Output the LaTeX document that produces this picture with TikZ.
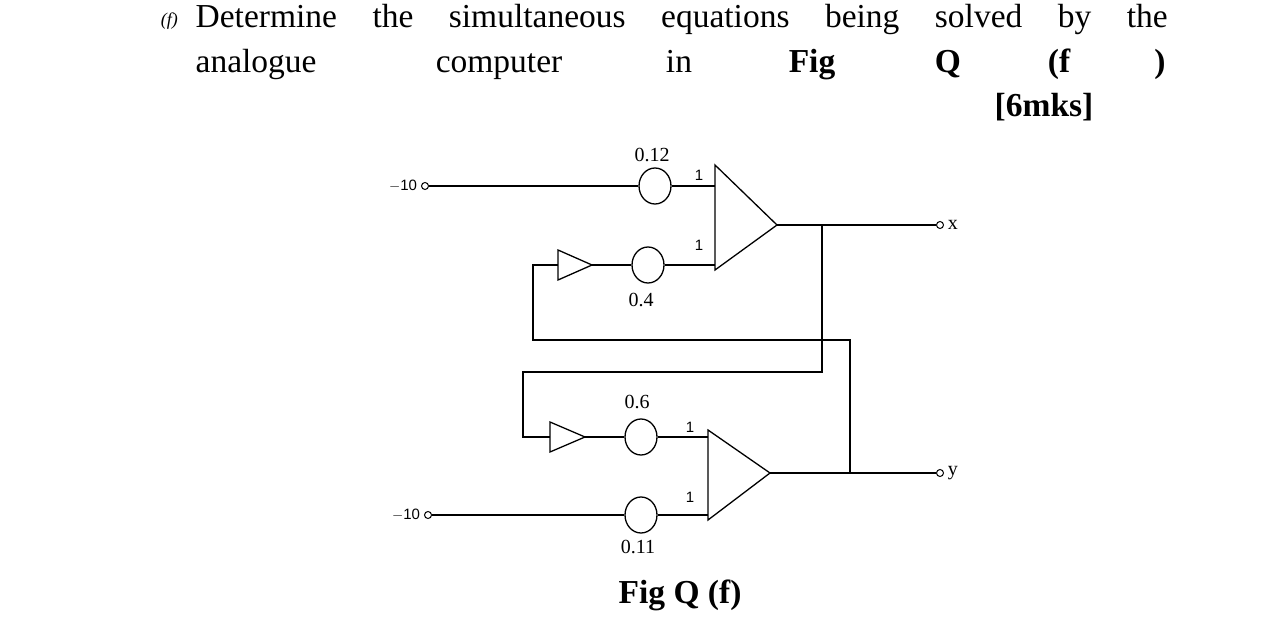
\documentclass[tikz,border=0pt]{standalone}
\usepackage{fontspec}
\usetikzlibrary{shapes.geometric}
\setmainfont{Liberation Serif}
\newfontfamily\sansf{Liberation Sans}
\begin{document}
\begin{tikzpicture}[x=1pt,y=-1pt,line width=1.3pt,
  pot/.style={draw,ellipse,minimum width=32pt,minimum height=36pt,inner sep=0pt},
  term/.style={draw,circle,minimum size=7pt,inner sep=0pt,line width=1pt},
  big/.style={font=\fontsize{33.5}{38}\selectfont},
  bigb/.style={font=\bfseries\fontsize{33.5}{38}\selectfont},
  lab/.style={font=\fontsize{20}{22}\selectfont},
  small/.style={font=\sansf\fontsize{15}{16}\selectfont}]
\useasboundingbox (0,0) rectangle (1284,617);
% text
\node[anchor=base west,font=\itshape\fontsize{18}{20}\selectfont] (tf) at (157,26) {(f)};
\node[big,anchor=base west,inner sep=0pt] (t1) at (195,28) {\makebox[972pt][s]{Determine the simultaneous equations being solved by the}};
\node[big,anchor=base west,inner sep=0pt] (a1) at (195,73) {analogue};
\node[big,anchor=base] (a2) at (499,73) {computer};
\node[big,anchor=base] (a3) at (679,73) {in};
\node[bigb,anchor=base] (a4) at (812,73) {Fig};
\node[bigb,anchor=base] (a5) at (948,73) {Q};
\node[bigb,anchor=base] (a6) at (1059,73) {(f};
\node[bigb,anchor=base] (a7) at (1160,73) {)};
\node[bigb,anchor=base east,inner sep=0pt] (mk) at (1094,117) {[6mks]};
\node[bigb,anchor=base] (cap) at (680,603) {Fig Q (f)};
% top amplifier
\coordinate (A1a) at (715,165); \coordinate (A1b) at (715,270); \coordinate (A1o) at (777,225);
\draw (A1a) -- (A1o) -- (A1b) -- cycle;
\node[term] (m1) at (425,186) {}; \node[small,left] at (m1.west) {$-$10};
\node[pot] (p1) at (655,186) {}; \node[lab] at (652,155) {0.12};
\draw (m1) -- (p1); \draw (p1) -- (715,186); \node[small] at (699,175) {1};
\node[term] (xo) at (940,225) {}; \node[lab,right] at (xo.east) {x};
\draw (A1o) -- (xo);
\draw (558,250) -- (592,265) -- (558,280) -- cycle;
\node[pot] (p2) at (648,265) {}; \node[lab] at (641,300) {0.4};
\draw (592,265) -- (p2); \draw (p2) -- (715,265); \node[small] at (699,245) {1};
% bottom amplifier
\coordinate (A2a) at (708,430); \coordinate (A2b) at (708,520); \coordinate (A2o) at (770,473);
\draw (A2a) -- (A2o) -- (A2b) -- cycle;
\draw (550,422) -- (585,437) -- (550,452) -- cycle;
\node[pot] (p3) at (641,437) {}; \node[lab] at (637,402) {0.6};
\draw (585,437) -- (p3); \draw (p3) -- (708,437); \node[small] at (690,427) {1};
\node[term] (m2) at (428,515) {}; \node[small,left] at (m2.west) {$-$10};
\node[pot] (p4) at (641,515) {}; \node[lab] at (638,547) {0.11};
\draw (m2) -- (p4); \draw (p4) -- (708,515); \node[small] at (690,497) {1};
\node[term] (yo) at (940,473) {}; \node[lab,right] at (yo.east) {y};
\draw (A2o) -- (yo);
% feedback
\draw (558,265) -- (533,265) -- (533,340) -- (850,340) -- (850,473);
\draw (822,225) -- (822,372) -- (523,372) -- (523,437) -- (550,437);
\end{tikzpicture}
\end{document}
